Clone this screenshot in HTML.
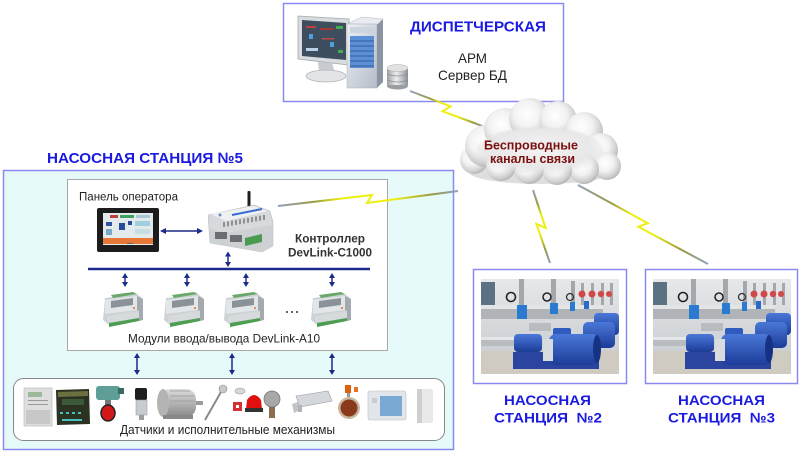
<!DOCTYPE html>
<html><head><meta charset="utf-8"><style>
html,body{margin:0;padding:0;background:#fff;}
svg{display:block;}
text{font-family:"Liberation Sans",Arial,sans-serif;}
</style></head><body>
<svg width="800" height="454" viewBox="0 0 800 454" xmlns="http://www.w3.org/2000/svg">
<defs>
  <radialGradient id="cg" cx="42%" cy="38%" r="62%">
    <stop offset="0" stop-color="#ffffff"/>
    <stop offset="0.5" stop-color="#f2f2f2"/>
    <stop offset="0.85" stop-color="#cfcfcf"/>
    <stop offset="1" stop-color="#b8b8b8"/>
  </radialGradient>
  <radialGradient id="cg2" cx="50%" cy="45%" r="55%">
    <stop offset="0" stop-color="#f4f4f4"/>
    <stop offset="0.7" stop-color="#e8e8e8"/>
    <stop offset="1" stop-color="#e0e0e0" stop-opacity="0"/>
  </radialGradient>
  <linearGradient id="l1" gradientUnits="userSpaceOnUse" x1="410" y1="91" x2="485" y2="127">
    <stop offset="0" stop-color="#90a0c0"/><stop offset="0.25" stop-color="#9a9a40"/>
    <stop offset="0.4" stop-color="#eeee10"/><stop offset="0.65" stop-color="#eeee10"/>
    <stop offset="0.85" stop-color="#9a9a40"/><stop offset="1" stop-color="#90a0c0"/>
  </linearGradient>
  <linearGradient id="l2" gradientUnits="userSpaceOnUse" x1="278" y1="206" x2="458" y2="191">
    <stop offset="0" stop-color="#90a0c0"/><stop offset="0.2" stop-color="#9a9a40"/>
    <stop offset="0.35" stop-color="#eeee10"/><stop offset="0.65" stop-color="#eeee10"/>
    <stop offset="0.85" stop-color="#9a9a40"/><stop offset="1" stop-color="#90a0c0"/>
  </linearGradient>
  <linearGradient id="l3" gradientUnits="userSpaceOnUse" x1="533" y1="190" x2="550" y2="263">
    <stop offset="0" stop-color="#90a0c0"/><stop offset="0.2" stop-color="#9a9a40"/>
    <stop offset="0.35" stop-color="#eeee10"/><stop offset="0.6" stop-color="#eeee10"/>
    <stop offset="0.8" stop-color="#9a9a40"/><stop offset="1" stop-color="#90a0c0"/>
  </linearGradient>
  <linearGradient id="l4" gradientUnits="userSpaceOnUse" x1="578" y1="185" x2="708" y2="264">
    <stop offset="0" stop-color="#90a0c0"/><stop offset="0.25" stop-color="#9a9a40"/>
    <stop offset="0.4" stop-color="#eeee10"/><stop offset="0.6" stop-color="#eeee10"/>
    <stop offset="0.8" stop-color="#9a9a40"/><stop offset="1" stop-color="#90a0c0"/>
  </linearGradient>
  <linearGradient id="pbg" x1="0" y1="0" x2="0" y2="1">
    <stop offset="0" stop-color="#e6e8ea"/><stop offset="1" stop-color="#c4c8cc"/>
  </linearGradient>
  <linearGradient id="srv" x1="0" y1="0" x2="1" y2="1">
    <stop offset="0" stop-color="#eef0f4"/><stop offset="1" stop-color="#b4bcc8"/>
  </linearGradient>
  <linearGradient id="cyl" x1="0" y1="0" x2="1" y2="0">
    <stop offset="0" stop-color="#9ca0a4"/><stop offset="0.45" stop-color="#eeeeee"/><stop offset="1" stop-color="#8c9094"/>
  </linearGradient>
  <linearGradient id="mot" x1="0" y1="0" x2="0" y2="1">
    <stop offset="0" stop-color="#4a78d8"/><stop offset="1" stop-color="#1c3c98"/>
  </linearGradient>
  <linearGradient id="gmot" x1="0" y1="0" x2="0" y2="1">
    <stop offset="0" stop-color="#dcdcdc"/><stop offset="1" stop-color="#8a8a8a"/>
  </linearGradient>

  <g id="pump">
    <rect width="138" height="95" fill="url(#pbg)"/>
    <rect x="0" y="3" width="14" height="24" fill="#5a7282"/>
    <rect x="0" y="72" width="138" height="23" fill="#cfcbc0"/>
    <rect x="0" y="26" width="122" height="14" fill="#b0b4b8"/>
    <rect x="0" y="26" width="122" height="4" fill="#e2e4e6"/>
    <rect x="38" y="0" width="5" height="28" fill="#a4a8ac"/>
    <rect x="70" y="0" width="5" height="26" fill="#a4a8ac"/>
    <rect x="90" y="2" width="4" height="24" fill="#a4a8ac"/>
    <rect x="100" y="4" width="3" height="22" fill="#a4a8ac"/>
    <rect x="110" y="4" width="3" height="22" fill="#a4a8ac"/>
    <rect x="120" y="4" width="3" height="22" fill="#a4a8ac"/>
    <rect x="129" y="4" width="3" height="22" fill="#a4a8ac"/>
    <circle cx="30" cy="18" r="4.5" fill="none" stroke="#222" stroke-width="1.6"/>
    <circle cx="66" cy="18" r="4" fill="none" stroke="#222" stroke-width="1.5"/>
    <circle cx="89" cy="18" r="3.5" fill="none" stroke="#333" stroke-width="1.3"/>
    <circle cx="101" cy="15" r="3.5" fill="#d04848"/>
    <circle cx="111" cy="15" r="3.5" fill="#d04848"/>
    <circle cx="120" cy="15" r="3.2" fill="#d04848"/>
    <circle cx="128" cy="15" r="3" fill="#d04848"/>
    <rect x="36" y="26" width="10" height="14" fill="#2a7ad0"/>
    <rect x="69" y="24" width="8" height="11" fill="#2a7ad0"/>
    <rect x="89" y="23" width="5" height="9" fill="#2a7ad0"/>
    <rect x="103" y="22" width="5" height="8" fill="#2a6ac8"/>
    <rect x="0" y="58" width="58" height="9" fill="#b8bcc0"/>
    <rect x="0" y="58" width="58" height="3" fill="#e4e6e8"/>
    <rect x="48" y="44" width="22" height="8" fill="#b8bcc0"/>
    <rect x="32" y="73" width="86" height="17" fill="#2a44a0"/>
    <rect x="33" y="55" width="28" height="18" rx="4" fill="url(#mot)"/>
    <rect x="113" y="34" width="25" height="22" rx="4" fill="url(#mot)"/>
    <rect x="102" y="43" width="32" height="26" rx="5" fill="url(#mot)"/>
    <rect x="72" y="49" width="18" height="12" rx="2" fill="#2e5cc0"/>
    <rect x="68" y="55" width="50" height="31" rx="7" fill="url(#mot)"/>
    <rect x="62" y="60" width="10" height="22" fill="#d8dcdf"/>
    <ellipse cx="116" cy="70" rx="4" ry="14" fill="#163284"/>
  </g>

  <g id="mod">
    <polygon points="2,8 34,4 40,9 40,30 6,35 0,30" fill="#cdd2d4"/>
    <polygon points="8,5 30,2 34,4 10,8" fill="#6aa86a"/>
    <polygon points="2,10 34,6 34,20 2,24" fill="#e2e6e8"/>
    <polygon points="8,11 30,8 30,15 8,18" fill="#8a9298"/>
    <polygon points="4,26 36,21 36,28 4,33" fill="#d6dadc"/>
    <polygon points="6,33 36,28 36,31 6,37" fill="#4e9e52"/>
    <polygon points="34,6 40,9 40,30 36,31 36,21 34,20" fill="#a4aaae"/>
    <circle cx="31" cy="18" r="1" fill="#e07030"/>
  </g>
</defs>

<rect width="800" height="454" fill="#ffffff"/>

<!-- Dispatcher box -->
<rect x="283.5" y="3.5" width="280" height="98" fill="#ffffff" stroke="#8a8af0" stroke-width="1.5"/>
<polygon points="298,16 349,19 349,65 298,59" fill="#d8dcdf" stroke="#a4a8ac" stroke-width="0.8"/>
<polygon points="302,20 346,23 346,60 302,56" fill="#3e4e5e"/>
<rect x="306" y="26" width="10" height="2" fill="#c04040"/>
<rect x="320" y="28" width="14" height="2" fill="#a03838"/>
<rect x="336" y="26" width="7" height="3" fill="#40b050"/>
<rect x="309" y="34" width="4" height="5" fill="#4aa0d8"/>
<rect x="322" y="38" width="12" height="1.5" fill="#c04848"/>
<rect x="330" y="42" width="4" height="5" fill="#4aa0d8"/>
<rect x="306" y="48" width="12" height="3" fill="#b8d0e8"/>
<rect x="338" y="50" width="5" height="3" fill="#40b050"/>
<polygon points="318,62 332,63 335,73 319,73" fill="#c8ccd0"/>
<ellipse cx="326" cy="76" rx="20" ry="6" fill="#e2e4e6" stroke="#b0b4b8" stroke-width="0.8"/>
<polygon points="347,24 362,17 383,19 377,25" fill="#e8ebef" stroke="#b0b8c4" stroke-width="0.5"/>
<rect x="347" y="24" width="30" height="64" fill="url(#srv)" stroke="#a8b0bc" stroke-width="0.5"/>
<polygon points="377,25 383,19 383,82 377,88" fill="#8a94a4"/>
<rect x="350" y="27" width="24" height="6" fill="#ccd4de"/>
<rect x="350" y="36" width="24" height="32" fill="#5b8fd6"/>
<g stroke="#2a4a8a" stroke-width="0.8">
<line x1="350" y1="41" x2="374" y2="41"/><line x1="350" y1="46" x2="374" y2="46"/>
<line x1="350" y1="51" x2="374" y2="51"/><line x1="350" y1="56" x2="374" y2="56"/>
<line x1="350" y1="61" x2="374" y2="61"/><line x1="350" y1="66" x2="374" y2="66"/>
</g>
<ellipse cx="397.5" cy="86" rx="10.5" ry="3.5" fill="#9a9ea2"/>
<rect x="387" y="68" width="21" height="17" fill="url(#cyl)"/>
<ellipse cx="397.5" cy="68" rx="10.5" ry="3.5" fill="#e2e2e2" stroke="#a8acb0" stroke-width="0.5"/>
<path d="M387,74 Q397.5,78 408,74 M387,80 Q397.5,84 408,80" fill="none" stroke="#8a8e92" stroke-width="0.7"/>

<text x="410" y="31.5" font-size="15" font-weight="bold" fill="#1a1ae0" textLength="136" lengthAdjust="spacingAndGlyphs">ДИСПЕТЧЕРСКАЯ</text>
<text x="458" y="63" font-size="14" fill="#222" textLength="29" lengthAdjust="spacingAndGlyphs">АРМ</text>
<text x="438" y="80" font-size="14" fill="#222" textLength="69" lengthAdjust="spacingAndGlyphs">Сервер БД</text>

<!-- Station 5 outer box -->
<rect x="3.5" y="170.5" width="450" height="279" fill="#e6fafa" stroke="#8a8af0" stroke-width="1.5"/>
<text x="47" y="163" font-size="15" font-weight="bold" fill="#1a1ae0" textLength="196" lengthAdjust="spacingAndGlyphs">НАСОСНАЯ СТАНЦИЯ №5</text>

<rect x="67.5" y="179.5" width="320" height="171" fill="#ffffff" stroke="#a8a8a8" stroke-width="1"/>
<text x="79" y="200.5" font-size="11.5" fill="#222" textLength="99" lengthAdjust="spacingAndGlyphs">Панель оператора</text>

<rect x="97" y="208" width="62" height="44" rx="2" fill="#1c1c1c"/>
<rect x="103" y="213" width="50" height="32" fill="#e2eaec"/>
<rect x="103" y="238" width="50" height="6" fill="#e87838"/>
<rect x="110" y="215" width="8" height="3" fill="#c04040"/>
<rect x="120" y="215" width="14" height="3" fill="#40a060"/>
<rect x="136" y="215" width="14" height="3" fill="#a8c8d8"/>
<rect x="106" y="222" width="6" height="4" fill="#3050a0"/>
<rect x="119" y="223" width="6" height="7" fill="#2a4a9a"/>
<rect x="128" y="221" width="4" height="4" fill="#2a4a9a"/>
<rect x="135" y="221" width="15" height="5" fill="#a0d0e0"/>
<rect x="106" y="229" width="6" height="6" fill="#7aa8c8"/>
<rect x="135" y="229" width="15" height="5" fill="#c8dce4"/>
<rect x="127" y="243" width="6" height="1" fill="#666"/>

<g stroke="#1c2a8c" stroke-width="1.5" fill="#1c2a8c">
<line x1="165" y1="231" x2="198" y2="231"/>
<polygon points="160,231 166,228 166,234" stroke="none"/>
<polygon points="203,231 197,228 197,234" stroke="none"/>
</g>

<rect x="247.5" y="191" width="3" height="18" rx="1" fill="#1e1e1e"/>
<polygon points="208,215 254,205 270,211 273,222 273,246 262,252 210,243" fill="#d6dadc" stroke="#b0b4b8" stroke-width="0.5"/>
<polygon points="211,214 254,206 268,211 226,221" fill="#eef0f2"/>
<line x1="232" y1="215" x2="262" y2="209" stroke="#3a6ad0" stroke-width="2"/>
<circle cx="220" cy="215" r="1.5" fill="#6a8ad0"/>
<g stroke="#555" stroke-width="1.1">
<line x1="224" y1="222" x2="224" y2="227"/><line x1="228" y1="221.3" x2="228" y2="226.3"/>
<line x1="232" y1="220.6" x2="232" y2="225.6"/><line x1="236" y1="219.9" x2="236" y2="224.9"/>
<line x1="240" y1="219.2" x2="240" y2="224.2"/><line x1="244" y1="218.5" x2="244" y2="223.5"/>
<line x1="248" y1="217.8" x2="248" y2="222.8"/><line x1="252" y1="217.1" x2="252" y2="222.1"/>
<line x1="256" y1="216.4" x2="256" y2="221.4"/><line x1="260" y1="215.7" x2="260" y2="220.7"/>
<line x1="264" y1="215" x2="264" y2="220"/>
</g>
<polygon points="210,229 226,233 272,225 273,246 262,252 210,243" fill="#cdd1d4"/>
<rect x="215" y="232" width="12" height="7" fill="#6a6e72"/>
<rect x="230" y="235" width="12" height="7" fill="#6a6e72"/>
<polygon points="245,238 262,234 262,242 245,246" fill="#4a9a50"/>

<text x="295" y="242.5" font-size="12" font-weight="bold" fill="#333" textLength="70" lengthAdjust="spacingAndGlyphs">Контроллер</text>
<text x="288" y="256.5" font-size="12" font-weight="bold" fill="#333" textLength="84" lengthAdjust="spacingAndGlyphs">DevLink-C1000</text>

<g stroke="#1c2a8c" stroke-width="1.5" fill="#1c2a8c">
<line x1="228" y1="256" x2="228" y2="263"/>
<polygon points="228,251.5 225,256.5 231,256.5" stroke="none"/>
<polygon points="228,267 225,262 231,262" stroke="none"/>
<line x1="88" y1="269" x2="370" y2="269" stroke-width="2.5"/>
<line x1="125" y1="277" x2="125" y2="283"/><polygon points="125,273 122,278 128,278" stroke="none"/><polygon points="125,287 122,282 128,282" stroke="none"/>
<line x1="187" y1="277" x2="187" y2="283"/><polygon points="187,273 184,278 190,278" stroke="none"/><polygon points="187,287 184,282 190,282" stroke="none"/>
<line x1="246" y1="277" x2="246" y2="283"/><polygon points="246,273 243,278 249,278" stroke="none"/><polygon points="246,287 243,282 249,282" stroke="none"/>
<line x1="332" y1="277" x2="332" y2="283"/><polygon points="332,273 329,278 335,278" stroke="none"/><polygon points="332,287 329,282 335,282" stroke="none"/>
</g>

<use href="#mod" transform="translate(103,290)"/>
<use href="#mod" transform="translate(164,290)"/>
<use href="#mod" transform="translate(224,290)"/>
<use href="#mod" transform="translate(311,290)"/>
<circle cx="287" cy="312" r="1" fill="#333"/><circle cx="292" cy="312" r="1" fill="#333"/><circle cx="297" cy="312" r="1" fill="#333"/>

<text x="128" y="342.5" font-size="12" fill="#222" textLength="192" lengthAdjust="spacingAndGlyphs">Модули ввода/вывода DevLink-A10</text>

<g stroke="#1c2a8c" stroke-width="1.5" fill="#1c2a8c">
<line x1="137" y1="357" x2="137" y2="371"/><polygon points="137,353 134,358 140,358" stroke="none"/><polygon points="137,375 134,370 140,370" stroke="none"/>
<line x1="232" y1="357" x2="232" y2="371"/><polygon points="232,353 229,358 235,358" stroke="none"/><polygon points="232,375 229,370 235,370" stroke="none"/>
<line x1="332" y1="357" x2="332" y2="371"/><polygon points="332,353 329,358 335,358" stroke="none"/><polygon points="332,375 329,370 335,370" stroke="none"/>
</g>

<rect x="13.5" y="378.5" width="431" height="62" rx="10" fill="#ffffff" stroke="#888" stroke-width="1"/>
<rect x="24" y="388" width="28" height="38" fill="#dedede" stroke="#b4b4b4" stroke-width="0.6"/>
<rect x="28" y="392" width="14" height="5" fill="#9cb89c"/>
<rect x="28" y="400" width="20" height="1" fill="#999"/><rect x="28" y="404" width="20" height="1" fill="#999"/>
<rect x="26" y="410" width="24" height="14" fill="#c8c8c8"/>
<polygon points="56,390 89,389 90,424 57,425" fill="#2c3222"/>
<polygon points="58,392 88,391 88,396 58,397" fill="#6a7040"/>
<rect x="62" y="399" width="22" height="6" fill="#3c5a3a"/>
<g fill="#48c0c0"><rect x="60" y="412" width="3" height="2"/><rect x="66" y="412" width="3" height="2"/><rect x="72" y="412" width="3" height="2"/><rect x="78" y="412" width="3" height="2"/><rect x="62" y="419" width="20" height="2"/></g>
<rect x="96" y="386" width="24" height="14" rx="3" fill="#5e9e96"/>
<rect x="118" y="388" width="6" height="6" fill="#3a6a66"/>
<rect x="105" y="400" width="6" height="5" fill="#777"/>
<ellipse cx="108" cy="413" rx="7" ry="8" fill="#d01818" stroke="#222" stroke-width="1.5"/>
<rect x="135" y="388" width="12" height="12" rx="2" fill="#1e1e1e"/>
<rect x="136" y="400" width="11" height="15" fill="#c8ccd0" stroke="#909498" stroke-width="0.5"/>
<rect x="139" y="415" width="5" height="5" fill="#9a9ea2"/>
<rect x="160" y="389" width="36" height="28" rx="10" fill="url(#gmot)"/>
<ellipse cx="163" cy="403" rx="6" ry="14" fill="#b4b4b4"/>
<g stroke="#9a9a9a" stroke-width="0.8"><line x1="170" y1="391" x2="190" y2="391"/><line x1="170" y1="396" x2="194" y2="396"/><line x1="170" y1="401" x2="195" y2="401"/></g>
<rect x="196" y="401" width="7" height="4" fill="#9a9a9a"/>
<rect x="163" y="415" width="30" height="4" fill="#888"/>
<line x1="221" y1="392" x2="205" y2="420" stroke="#8a8a8a" stroke-width="2"/>
<circle cx="223" cy="389" r="4" fill="#c8c8c8" stroke="#888" stroke-width="0.6"/>
<ellipse cx="240" cy="391" rx="5" ry="3" fill="#d8d8d8" stroke="#999" stroke-width="0.6"/>
<rect x="233" y="402" width="9" height="9" fill="#d43030"/>
<rect x="236" y="405" width="3" height="3" fill="#fff"/>
<path d="M246,409 L247,400 Q254,390 261,400 L262,409 Z" fill="#e01010"/>
<rect x="245" y="408" width="18" height="4" fill="#333"/>
<circle cx="272" cy="399" r="8" fill="#a8a8a8" stroke="#777" stroke-width="0.8"/>
<rect x="269" y="407" width="6" height="11" fill="#8a7050"/>
<polygon points="296,396 328,391 332,401 300,407" fill="#d4d8dc" stroke="#9a9ea2" stroke-width="0.6"/>
<polygon points="292,404 298,402 300,410 294,413" fill="#c0c4c8"/>
<rect x="298" y="405" width="4" height="7" fill="#b0b4b8"/>
<rect x="345" y="385" width="6" height="8" fill="#e06010"/>
<rect x="354" y="387" width="4" height="5" fill="#e87020"/>
<rect x="347" y="393" width="3" height="4" fill="#999"/>
<circle cx="349" cy="408" r="11" fill="#c8b8a0"/>
<circle cx="349" cy="408" r="8.5" fill="#8a3a1a"/>
<rect x="368" y="391" width="38" height="29" rx="2" fill="#e2e6ea" stroke="#b8bcc0" stroke-width="0.6"/>
<rect x="380" y="396" width="22" height="20" fill="#7aaad4"/>
<rect x="372" y="398" width="5" height="5" fill="#c8ccd0"/>
<rect x="417" y="389" width="16" height="34" rx="2" fill="#e8e8e8"/>
<rect x="417" y="389" width="5" height="34" fill="#cfcfcf"/>

<text x="120" y="434" font-size="12.5" fill="#222" textLength="215" lengthAdjust="spacingAndGlyphs">Датчики и исполнительные механизмы</text>

<!-- lightning lines -->
<path d="M410,91 L450.5,106.3 L442.6,111.3 L485,127" fill="none" stroke="url(#l1)" stroke-width="2"/>
<path d="M278,206 L372,195 L367,203 L458,191" fill="none" stroke="url(#l2)" stroke-width="2"/>
<path d="M533,190 L545.6,228 L536.4,224 L550,263" fill="none" stroke="url(#l3)" stroke-width="2"/>
<path d="M578,185 L647.7,223.2 L638.3,226.8 L708,264" fill="none" stroke="url(#l4)" stroke-width="2"/>

<!-- cloud -->
<ellipse cx="541" cy="172" rx="72" ry="12" fill="#c8c8c8" opacity="0.6"/>
<g>
<circle cx="474" cy="160" r="14" fill="url(#cg)"/>
<circle cx="486" cy="146" r="21" fill="url(#cg)"/>
<circle cx="505" cy="129" r="21" fill="url(#cg)"/>
<circle cx="530" cy="119" r="21" fill="url(#cg)"/>
<circle cx="558" cy="120" r="19" fill="url(#cg)"/>
<circle cx="584" cy="131" r="19" fill="url(#cg)"/>
<circle cx="601" cy="150" r="17" fill="url(#cg)"/>
<circle cx="607" cy="166" r="14" fill="url(#cg)"/>
<circle cx="584" cy="169" r="15" fill="url(#cg)"/>
<circle cx="557" cy="170" r="15" fill="url(#cg)"/>
<circle cx="529" cy="169" r="15" fill="url(#cg)"/>
<circle cx="501" cy="166" r="15" fill="url(#cg)"/>
</g>
<ellipse cx="540" cy="151" rx="64" ry="24" fill="url(#cg2)"/>
<text x="484" y="149.5" font-size="13" font-weight="bold" fill="#7a1010" textLength="94" lengthAdjust="spacingAndGlyphs">Беспроводные</text>
<text x="490" y="163" font-size="13" font-weight="bold" fill="#7a1010" textLength="85" lengthAdjust="spacingAndGlyphs">каналы связи</text>

<!-- station 2 -->
<rect x="473.5" y="269.5" width="153" height="114" fill="#ffffff" stroke="#8a8af0" stroke-width="1.5"/>
<use href="#pump" transform="translate(481,279)"/>
<text x="504" y="405" font-size="14" font-weight="bold" fill="#1a1ae0" textLength="87" lengthAdjust="spacingAndGlyphs">НАСОСНАЯ</text>
<text x="494" y="422.5" font-size="14" font-weight="bold" fill="#1a1ae0" textLength="108" lengthAdjust="spacingAndGlyphs" style="white-space:pre">СТАНЦИЯ  №2</text>

<!-- station 3 -->
<rect x="645.5" y="269.5" width="152" height="114" fill="#ffffff" stroke="#8a8af0" stroke-width="1.5"/>
<use href="#pump" transform="translate(653,279)"/>
<text x="678" y="405" font-size="14" font-weight="bold" fill="#1a1ae0" textLength="87" lengthAdjust="spacingAndGlyphs">НАСОСНАЯ</text>
<text x="668" y="422.5" font-size="14" font-weight="bold" fill="#1a1ae0" textLength="107" lengthAdjust="spacingAndGlyphs" style="white-space:pre">СТАНЦИЯ  №3</text>
</svg>
</body></html>
